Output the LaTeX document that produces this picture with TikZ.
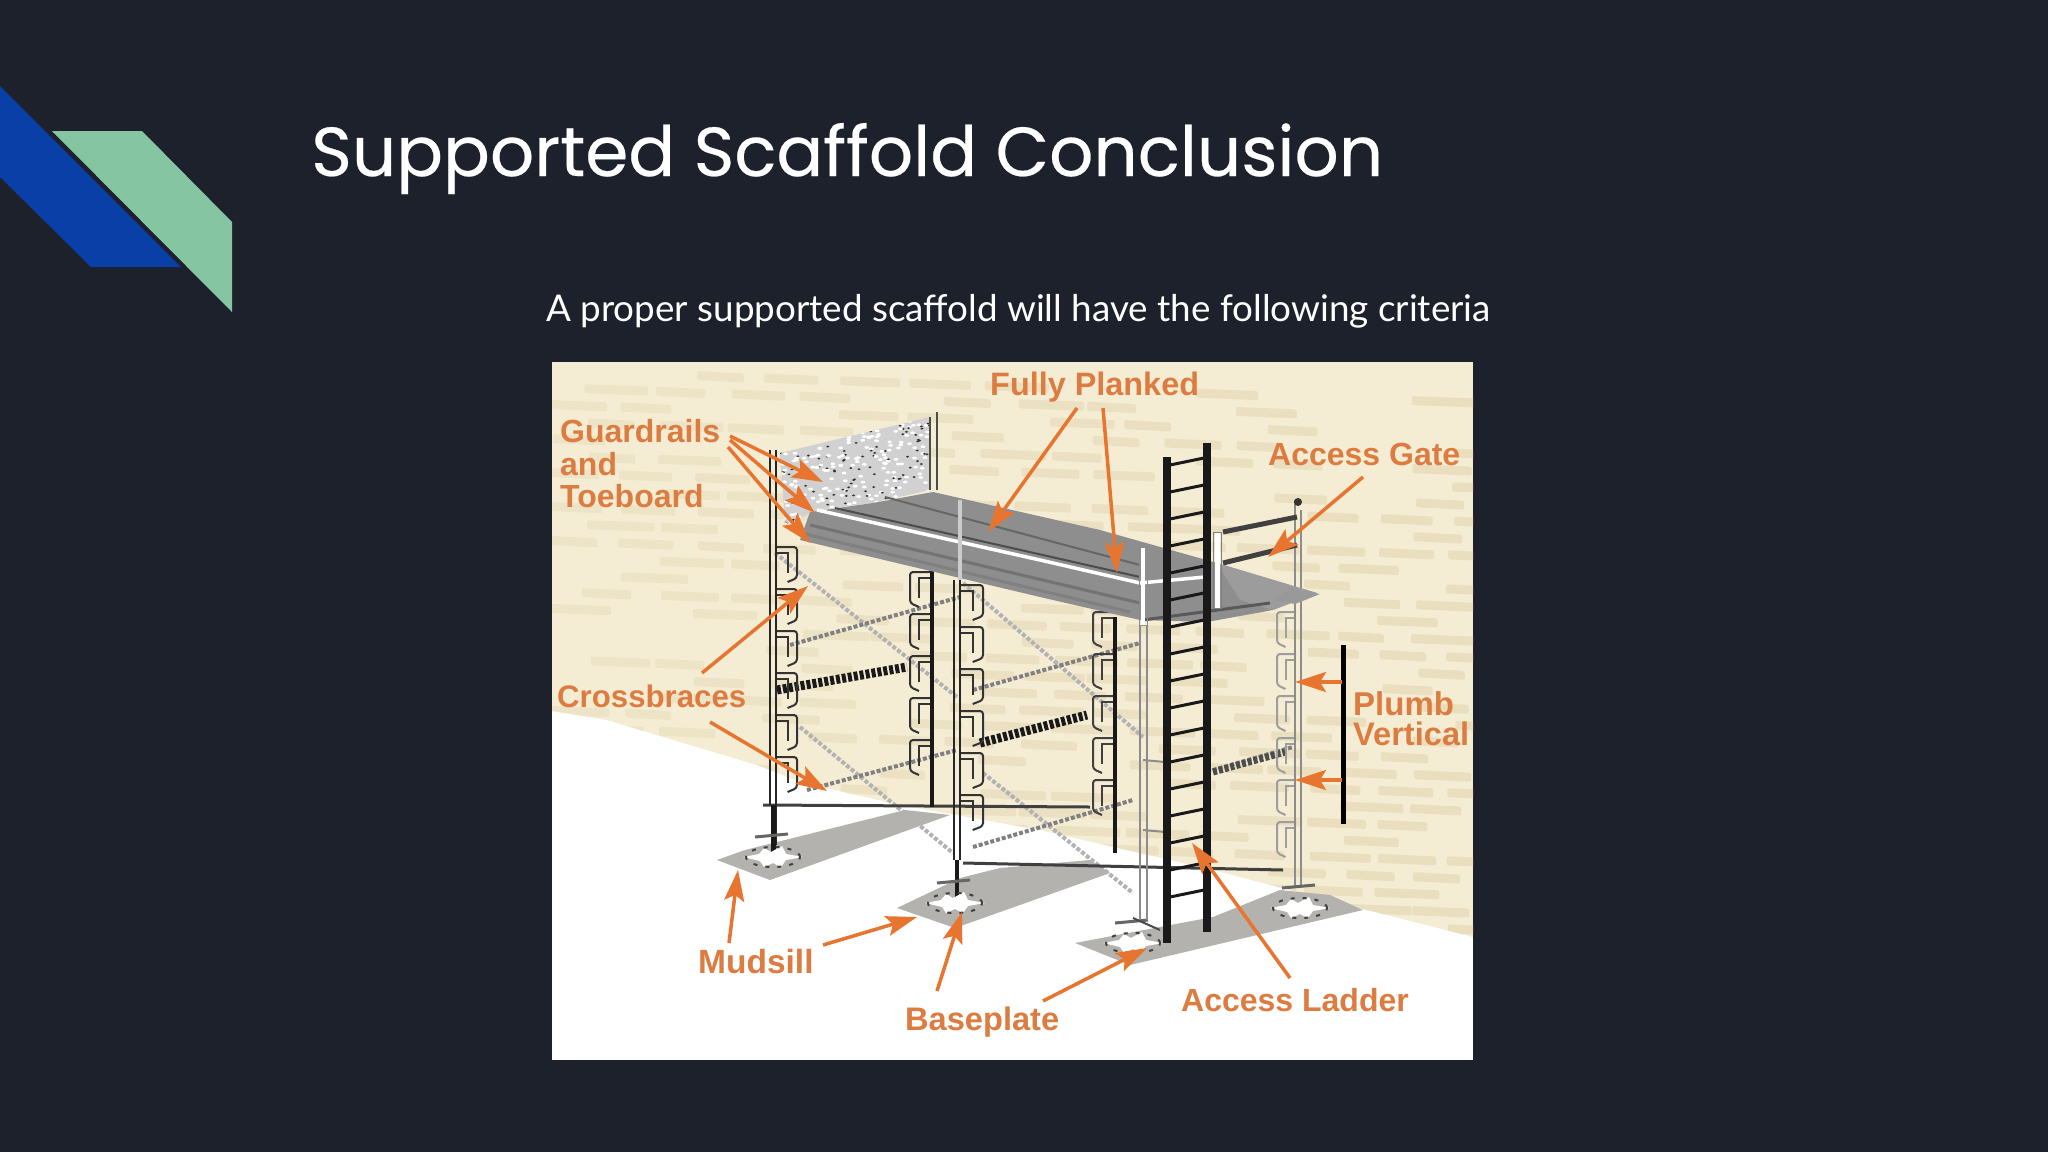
\documentclass[tikz,border=0pt]{standalone}
\usepackage{fontspec}
\setmainfont{Lato}
\newfontfamily\titlefont[FakeBold=0.35]{Poppins}
\newfontfamily\labfont{Liberation Sans}
\usetikzlibrary{arrows.meta}
\definecolor{slidebg}{HTML}{1C212C}
\definecolor{blueband}{HTML}{0B3FA8}
\definecolor{greenband}{HTML}{85C5A2}
\definecolor{wallc}{HTML}{F5ECD4}
\definecolor{brickc}{HTML}{E6DBB8}
\definecolor{orangeline}{HTML}{E8752F}
\definecolor{orangetext}{HTML}{DD7C40}
\definecolor{plankc}{HTML}{8E8E8E}
\definecolor{sillc}{HTML}{B4B2AE}
\tikzset{
  lab/.style={font=\labfont\bfseries\fontsize{#1}{#1}\selectfont,text=orangetext,inner sep=0pt,anchor=base west},
  lab/.default={32},
  callout/.style={draw=orangeline,line width=3.5pt,-{Stealth[length=31pt,width=20pt,inset=6pt]}},
  brace/.style={draw=#1,line width=4pt,dash pattern=on 4pt off 2pt},
  brace/.default={black!65},
  darkpost/.style={draw=black!85,line width=2pt},
  lightpost/.style={draw=black!45,line width=2pt},
  rung/.style={draw=black!90,line width=3pt},
  rail/.style={draw=black!90,line width=8pt},
}
% ladder-like frame side: x1 x2 ytop ybot colour
\newcommand{\chainside}[5]{%
  \pgfmathtruncatemacro\nlinks{(#4-#3)/42-1}%
  \pgfmathsetmacro\xm{#1+0.45*(#2-#1)}%
  \foreach \k in {0,...,\nlinks}{%
    \pgfmathsetmacro\yy{#3+42*\k}%
    \draw[draw=#5,line width=2pt,rounded corners=3pt] (#2,\yy) -- (#1,\yy) -- (#1,\yy+31) -- (\xm,\yy+35);
    \draw[draw=#5,line width=2pt] (#2,\yy+6) -- (\xm,\yy+6) -- (\xm,\yy+26);
  }%
}
% baseplate: centre x y
\newcommand{\plate}[2]{%
  \fill[white] (#1-30,#2) -- (#1-14,#2-3) -- (#1-9,#2-9) -- (#1-2,#2-5) -- (#1+9,#2-11) -- (#1+13,#2-3) -- (#1+30,#2) -- (#1+13,#2+3) -- (#1+8,#2+10) -- (#1,#2+6) -- (#1-9,#2+10) -- (#1-13,#2+4) -- cycle;
  \draw[black!75,line width=2pt,dash pattern=on 4pt off 8pt] (#1,#2) ellipse (27pt and 10pt);
  \draw[black!60,line width=3pt] (#1-18,#2-20) -- (#1+15,#2-23);
}
\begin{document}
\begin{tikzpicture}[x=1pt,y=-1pt]
\useasboundingbox (0,0) rectangle (2048,1152);
\fill[slidebg] (0,0) rectangle (2048,1152);
% corner bands
\fill[blueband] (0,86) -- (181,267) -- (91,267) -- (0,177) -- cycle;
\fill[greenband] (52,131) -- (142,131) -- (232,222) -- (232,312) -- cycle;
% title
\node[font=\titlefont\fontsize{69.3}{69.3}\selectfont,text=white,inner sep=0pt,anchor=base west] (title) at (311,176) {Supported Scaffold Conclusion};
\node[font=\fontsize{36.8}{36.8}\selectfont,text=white,inner sep=0pt,anchor=base west] (subtitle) at (546,321) {A proper supported scaffold will have the following criteria};
% image ground
\fill[white] (552,362) rectangle (1473,1060);
% wall
\begin{scope}
\clip (552,362) -- (1473,362) -- (1473,937) -- (1367,910) -- (1213,870) -- (1040,830) -- (900,805) -- (800,782) -- (757,765) -- (690,745) -- (607,720) -- (552,711) -- cycle;
\fill[wallc] (552,362) rectangle (1473,960);
\pgfmathsetseed{11}
\foreach \r in {0,...,36}{
  \pgfmathsetmacro\ry{366+\r*17}
  \pgfmathsetmacro\off{mod(\r,2)*36}
  \foreach \c in {0,...,13}{
    \pgfmathsetmacro\show{rnd}
    \ifdim\show pt<0.6pt
      \pgfmathsetmacro\bx{546+\off+\c*72+rnd*10}
      \pgfmathsetmacro\bw{46+rnd*22}
      \pgfmathsetmacro\by{\ry+(\bx-552)*0.035}
      \pgfmathsetmacro\op{0.3+0.5*\bx/1500}
      \fill[brickc,opacity=\op,rounded corners=2pt] (\bx,\by) -- (\bx+\bw,\by+2.5) -- (\bx+\bw,\by+11.5) -- (\bx,\by+9) -- cycle;
    \fi
  }
}
\end{scope}
% mudsills
\fill[sillc] (717,860) -- (745,850) -- (905,810) -- (950,815) -- (770,880) -- cycle;
\fill[sillc] (897,908) -- (960,878) -- (1000,868) -- (1090,860) -- (1110,873) -- (955,928) -- cycle;
\fill[sillc] (1075,943) -- (1213,917) -- (1280,890) -- (1330,895) -- (1363,910) -- (1130,965) -- cycle;
% light crossbraces
\draw[brace=black!30] (775,553) -- (957,697);
\draw[brace=black!30] (800,727) -- (953,853);
\draw[brace=black!30] (963,583) -- (1143,737);
\draw[brace=black!30] (983,773) -- (1133,893);
% twisted horizontal braces
\draw[brace=black!50] (790,645) -- (960,597);
\draw[brace=black!50] (807,790) -- (957,750);
\draw[brace=black!50] (973,690) -- (1140,643);
\draw[brace=black!50] (973,847) -- (1133,800);
\draw[brace=black!50] (1213,770) -- (1293,747);
% lower hatched planks
\draw[brace=black!90,line width=9pt,dash pattern=on 4pt off 2pt] (777,690) -- (907,667);
\draw[brace=black!90,line width=9pt,dash pattern=on 4pt off 2pt] (980,743) -- (1087,715);
\draw[brace=black!70,line width=7pt,dash pattern=on 4pt off 2pt] (1213,772) -- (1285,752);
% horizontal bars
\draw[draw=black!75,line width=3pt] (763,805) -- (1090,807);
\draw[draw=black!75,line width=3pt] (963,863) -- (1283,870);
% frames
\chainside{797}{776}{547}{830}{black!80}
\chainside{910}{930}{572}{785}{black!80}
\chainside{983}{960}{585}{865}{black!80}
\chainside{1093}{1113}{612}{835}{black!75}
\chainside{1277}{1296}{612}{880}{black!38}
% posts
\draw[darkpost] (770,450) -- (770,805) (776,450) -- (776,845);
\draw[draw=black!90,line width=5pt] (773,805) -- (773,852);
\draw[draw=black!90,line width=4pt] (932,570) -- (932,807);
\draw[darkpost] (954,580) -- (954,860) (960,580) -- (960,860);
\draw[draw=black!90,line width=4pt] (957,860) -- (957,897);
\draw[draw=black!90,line width=4pt] (1115,617) -- (1115,853);
\draw[lightpost] (1295,500) -- (1295,887) (1301,510) -- (1301,887);
\fill[black!80] (1298,502) circle (4pt);
% baseplates
\plate{773}{857}
\plate{955}{903}
\plate{1133}{943}
\plate{1300}{908}
% guardrail mesh
\begin{scope}
\clip (780,453) -- (930,417) -- (930,490) -- (873,503) -- (817,510) -- (785,525) -- cycle;
\fill[black!18] (770,410) rectangle (935,530);
\pgfmathsetseed{5}
\foreach \i in {1,...,420}{
  \pgfmathsetmacro\mx{775+rnd*160}
  \pgfmathsetmacro\my{412+rnd*116}
  \pgfmathsetmacro\sh{rnd}
  \ifdim\sh pt<0.4pt
    \fill[black!80] (\mx,\my) ellipse (1.6pt and 1pt);
  \else
    \fill[white] (\mx,\my) ellipse (2.4pt and 1.4pt);
  \fi
}
\end{scope}
\draw[draw=black!70,line width=2pt] (930,417) -- (930,490) (937,412) -- (937,490);
% platform
\fill[plankc] (810,512) -- (873,503) -- (933,492) -- (1100,530) -- (1217,563) -- (1317,593) -- (1273,610) -- (1207,622) -- (1140,620) -- (1040,597) -- (800,540) -- cycle;
\fill[black!35,opacity=.6] (1217,563) -- (1317,593) -- (1273,610) -- (1240,600) -- cycle;
\draw[black!55,line width=3pt] (810,525) -- (1140,603);
\draw[black!50,line width=3pt] (805,534) -- (1130,612);
\draw[black!60,line width=2pt] (885,497) -- (1140,565);
\draw[black!70,line width=2pt] (835,508) -- (1140,577);
\draw[white,line width=3.5pt] (817,510) -- (1040,560) -- (1140,583) -- (1205,577);
\draw[white!80!black,line width=4pt] (960,500) -- (960,580);
\draw[black!65,line width=3pt] (1143,620) -- (1270,603);
% right end of platform
\fill[black!40] (1290,588) -- (1320,594) -- (1295,604) -- (1275,600) -- cycle;
% lower front post
\draw[lightpost] (1140,625) -- (1140,920) (1147,625) -- (1147,920);
\draw[black!45,line width=2pt] (1143,760) -- (1165,762) (1143,830) -- (1165,832);
\draw[white,line width=4pt] (1143,547) -- (1143,625);
\draw[black!45,line width=1pt] (1139,547) rectangle (1147,625);
\draw[black!70,line width=2pt] (1133,918) -- (1160,930);
% access gate
\draw[black!75,line width=5pt] (1223,532) -- (1297,517);
\draw[black!75,line width=5pt] (1223,563) -- (1297,545);
\draw[white,line width=5pt] (1217,532) -- (1217,608);
\draw[black!50,line width=1pt] (1213,532) rectangle (1221,608);
% ladder
\draw[rail] (1167,457) -- (1167,943);
\draw[rail] (1207,443) -- (1207,932);
\foreach \k in {0,...,16}{
  \pgfmathsetmacro\ya{897-27*\k}
  \draw[rung] (1170,\ya) -- (1204,\ya-7);
}
% plumb line
\draw[black,line width=5pt] (1343,645) -- (1343,824);
% labels
\node[lab] (guard) at (560,442) {Guardrails};
\node[lab] (andw) at (560,475) {and};
\node[lab] (toe) at (560,507) {Toeboard};
\node[lab=31.2] (cross) at (557,707) {Crossbraces};
\node[lab=32.4] (fully) at (990,395) {Fully Planked};
\node[lab] (gate) at (1268,465) {Access Gate};
\node[lab=33] (plumb) at (1353,715) {Plumb};
\node[lab=32.6] (vert) at (1353,745) {Vertical};
\node[lab=33.5] (mud) at (698,973) {Mudsill};
\node[lab=32.6] (base) at (905,1030) {Baseplate};
\node[lab] (ladder) at (1181,1011) {Access Ladder};
% arrow end points
\coordinate (g1a) at (730,436); \coordinate (g1b) at (823,482);
\coordinate (g2a) at (730,440); \coordinate (g2b) at (815,513);
\coordinate (g3a) at (728,447); \coordinate (g3b) at (810,543);
\coordinate (c1a) at (702,673); \coordinate (c1b) at (808,586);
\coordinate (c2a) at (710,722); \coordinate (c2b) at (827,791);
\coordinate (f1a) at (1077,408); \coordinate (f1b) at (988,532);
\coordinate (f2a) at (1103,408); \coordinate (f2b) at (1117,573);
\coordinate (aga) at (1363,477); \coordinate (agb) at (1268,557);
\coordinate (p1a) at (1342,682); \coordinate (p1b) at (1295,682);
\coordinate (p2a) at (1342,780); \coordinate (p2b) at (1295,780);
\coordinate (m1a) at (729,943); \coordinate (m1b) at (738,870);
\coordinate (m2a) at (823,945); \coordinate (m2b) at (917,917);
\coordinate (b1a) at (937,991); \coordinate (b1b) at (962,912);
\coordinate (b2a) at (1043,1001); \coordinate (b2b) at (1147,948);
\coordinate (lda) at (1290,978); \coordinate (ldb) at (1192,843);
% arrows
\foreach \a/\b in {g1a/g1b,g2a/g2b,g3a/g3b,c1a/c1b,c2a/c2b,f1a/f1b,f2a/f2b,aga/agb,p1a/p1b,p2a/p2b,m1a/m1b,m2a/m2b,b1a/b1b,b2a/b2b,lda/ldb}
  \draw[callout] (\a) -- (\b);
\end{tikzpicture}
\end{document}
